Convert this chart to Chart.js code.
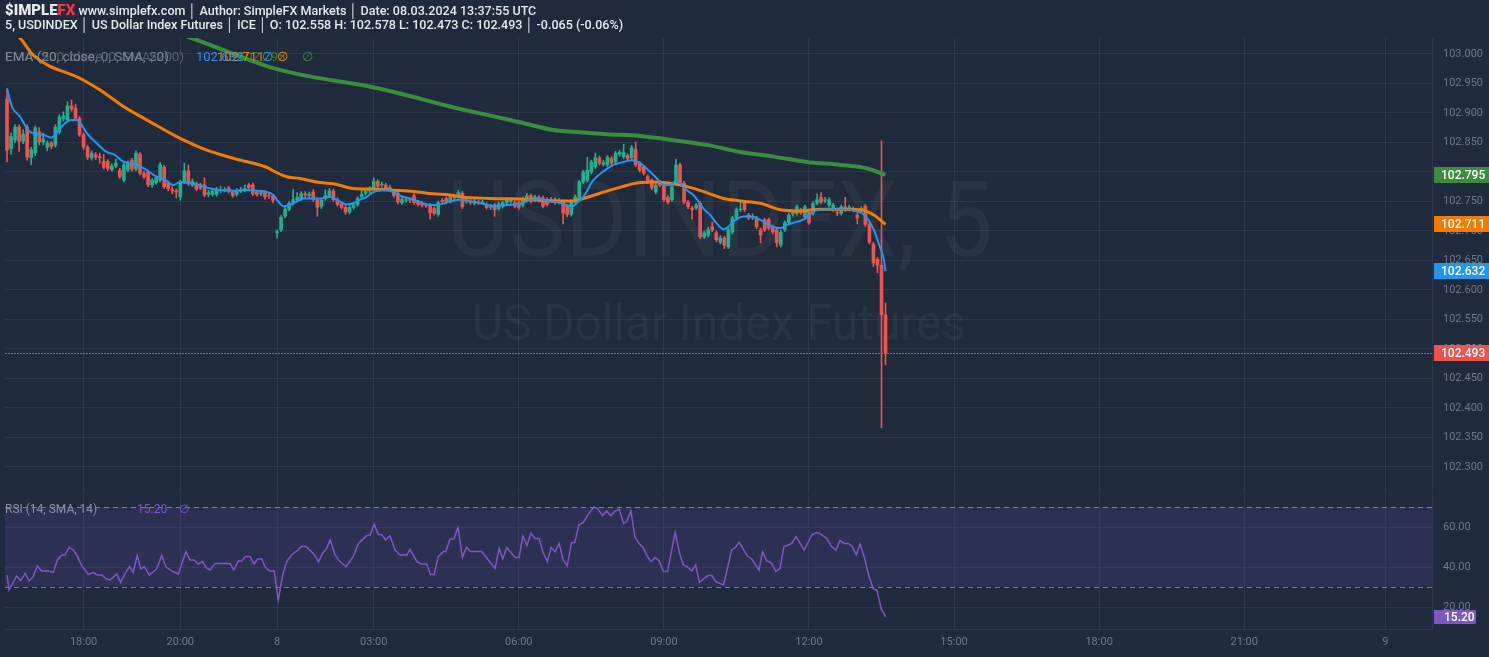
<!DOCTYPE html>
<html><head><meta charset="utf-8">
<script src="https://cdn.jsdelivr.net/npm/chart.js@4.4.1/dist/chart.umd.min.js"></script>
<style>
html,body{margin:0;padding:0;background:#1f2a3c;}
#wrap{position:relative;width:1489px;height:657px;overflow:hidden;background:#1f2a3c;font-family:Roboto,"Noto Sans",sans-serif;}
canvas{position:absolute;left:0;}
#main{top:0;}
#rsi{top:463px;}
.txt{position:absolute;white-space:pre;z-index:5;line-height:1;}
.cond{transform-origin:0 0;}
</style></head><body>
<div id="wrap">
<canvas id="main" width="1489" height="520"></canvas>
<canvas id="rsi" width="1489" height="194"></canvas>
<div class="txt cond" style="left:5px;top:3px;font-size:13px;font-weight:500;color:#e6e9ef;transform:scaleX(0.965);"><span style="font-weight:900;font-size:15.5px;">$IMPLE<span style="color:#f23645;">FX</span></span> www.simplefx.com │ Author: SimpleFX Markets │ Date: 08.03.2024 13:37:55 UTC</div>
<div class="txt cond" style="left:5px;top:18px;font-size:13px;font-weight:500;color:#e6e9ef;transform:scaleX(0.965);">5, USDINDEX │ US Dollar Index Futures │ ICE │ O: 102.558 H: 102.578 L: 102.473 C: 102.493 │ -0.065 (-0.06%)</div>
<div class="txt" style="left:5px;top:50px;font-size:13.5px;color:rgba(140,150,166,0.5);">EMA (20, close, 0, SMA, 20)</div>
<div class="txt" style="left:5px;top:50px;font-size:13.5px;color:rgba(140,150,166,0.5);">EMA (50, close, 0, SMA, 50)</div>
<div class="txt" style="left:5px;top:50px;font-size:13.5px;color:rgba(140,150,166,0.5);">EMA (200, close, 0, SMA, 200)</div>
<div class="txt" style="left:238px;top:50px;font-size:13px;color:rgba(56,142,60,0.85);">102.795</div>
<div class="txt" style="left:217px;top:50px;font-size:13px;color:#f57c00;">102.711</div>
<div class="txt" style="left:196px;top:50px;font-size:13px;color:#2196f3;">102.632</div>
<div class="txt" style="left:262px;top:50px;font-size:13px;color:#2196f3;">∅</div>
<div class="txt" style="left:277px;top:50px;font-size:13px;color:#f57c00;">∅</div>
<div class="txt" style="left:302px;top:50px;font-size:13px;color:#388e3c;">∅</div>
<div class="txt" style="left:5px;top:503px;font-size:12px;color:#8a93a3;">RSI (14, SMA, 14)</div>
<div class="txt" style="left:137px;top:503px;font-size:12px;color:#7e57c2;">15.20    ∅</div>
</div>
<script>
// ---- candles (5 min), index 0 = first bar on the left ----
const opens = [
102.924,102.840,102.854,102.876,102.852,102.876,102.824,102.832,102.868,102.851,
102.842,102.849,102.845,102.868,102.890,102.888,102.912,102.908,102.891,102.863,
102.842,102.824,102.829,102.826,102.818,102.818,102.804,102.810,102.803,102.786,
102.803,102.820,102.805,102.830,102.798,102.800,102.778,102.782,102.786,102.808,
102.782,102.770,102.768,102.758,102.783,102.802,102.778,102.780,102.778,102.778,
102.762,102.762,102.762,102.768,102.769,102.773,102.766,102.762,102.768,102.770,
102.778,102.778,102.766,102.763,102.765,102.760,102.759,102.697,102.702,102.725,
102.737,102.747,102.753,102.755,102.763,102.760,102.766,102.753,102.742,102.755,
102.760,102.768,102.753,102.746,102.740,102.732,102.740,102.745,102.758,102.764,
102.768,102.772,102.784,102.778,102.778,102.772,102.767,102.764,102.748,102.752,
102.753,102.760,102.749,102.747,102.744,102.744,102.738,102.728,102.752,102.755,
102.750,102.758,102.759,102.764,102.750,102.750,102.747,102.749,102.748,102.745,
102.740,102.744,102.738,102.742,102.748,102.750,102.748,102.748,102.744,102.752,
102.760,102.753,102.757,102.756,102.753,102.752,102.753,102.750,102.750,102.742,
102.728,102.750,102.755,102.783,102.786,102.800,102.809,102.824,102.813,102.812,
102.823,102.817,102.830,102.826,102.828,102.824,102.838,102.815,102.808,102.792,
102.786,102.766,102.783,102.778,102.757,102.753,102.781,102.812,102.781,102.749,
102.739,102.739,102.747,102.690,102.693,102.707,102.697,102.681,102.688,102.673,
102.698,102.722,102.736,102.749,102.727,102.722,102.722,102.702,102.719,102.719,
102.707,102.702,102.676,102.702,102.714,102.729,102.730,102.736,102.724,102.732,
102.730,102.747,102.757,102.752,102.744,102.736,102.731,102.730,102.741,102.738,
102.738,102.727,102.733,102.742,102.711,102.678,102.652,102.642,102.558];
const highs = [
102.939,102.866,102.880,102.880,102.872,102.880,102.842,102.878,102.875,102.866,
102.853,102.852,102.880,102.897,102.902,102.919,102.922,102.915,102.894,102.866,
102.845,102.836,102.833,102.832,102.830,102.821,102.814,102.822,102.806,102.815,
102.819,102.823,102.836,102.833,102.801,102.803,102.789,102.794,102.816,102.811,
102.785,102.775,102.771,102.786,102.815,102.812,102.788,102.783,102.781,102.790,
102.769,102.772,102.774,102.776,102.774,102.776,102.769,102.772,102.774,102.778,
102.781,102.781,102.769,102.769,102.768,102.764,102.762,102.702,102.726,102.740,
102.750,102.770,102.765,102.767,102.767,102.766,102.770,102.756,102.755,102.770,
102.772,102.771,102.756,102.749,102.743,102.743,102.748,102.758,102.770,102.772,
102.775,102.790,102.787,102.783,102.781,102.778,102.770,102.767,102.757,102.757,
102.756,102.763,102.752,102.750,102.747,102.747,102.741,102.751,102.755,102.758,
102.761,102.762,102.769,102.767,102.756,102.753,102.754,102.752,102.752,102.748,
102.745,102.747,102.749,102.751,102.757,102.756,102.751,102.751,102.758,102.764,
102.763,102.761,102.760,102.759,102.756,102.757,102.756,102.755,102.753,102.745,
102.753,102.761,102.786,102.803,102.825,102.820,102.832,102.827,102.820,102.828,
102.826,102.835,102.837,102.847,102.831,102.845,102.851,102.818,102.811,102.795,
102.789,102.781,102.786,102.781,102.760,102.778,102.822,102.815,102.784,102.752,
102.742,102.747,102.750,102.700,102.706,102.715,102.700,102.692,102.691,102.705,
102.725,102.739,102.750,102.752,102.730,102.729,102.725,102.705,102.722,102.722,
102.710,102.705,102.701,102.717,102.730,102.735,102.744,102.739,102.744,102.735,
102.750,102.763,102.765,102.757,102.756,102.747,102.735,102.744,102.757,102.744,
102.741,102.730,102.741,102.745,102.714,102.681,102.655,102.853,102.578];
const lows = [
102.817,102.830,102.850,102.835,102.848,102.820,102.812,102.828,102.846,102.846,
102.836,102.839,102.842,102.864,102.886,102.885,102.903,102.887,102.860,102.838,
102.821,102.820,102.821,102.815,102.805,102.802,102.801,102.807,102.789,102.783,
102.800,102.801,102.802,102.795,102.789,102.775,102.774,102.779,102.783,102.772,
102.768,102.763,102.756,102.752,102.780,102.777,102.775,102.768,102.770,102.758,
102.758,102.759,102.759,102.765,102.766,102.764,102.757,102.759,102.765,102.767,
102.770,102.760,102.759,102.760,102.754,102.755,102.748,102.688,102.699,102.722,
102.734,102.744,102.750,102.752,102.757,102.756,102.750,102.725,102.738,102.752,
102.757,102.750,102.742,102.737,102.728,102.729,102.737,102.742,102.755,102.761,
102.765,102.769,102.773,102.774,102.768,102.768,102.757,102.746,102.745,102.749,
102.748,102.745,102.742,102.741,102.740,102.720,102.727,102.725,102.747,102.746,
102.747,102.753,102.756,102.738,102.747,102.745,102.744,102.745,102.745,102.737,
102.736,102.725,102.735,102.739,102.745,102.747,102.739,102.737,102.741,102.749,
102.747,102.750,102.749,102.739,102.742,102.748,102.745,102.746,102.712,102.724,
102.725,102.747,102.752,102.780,102.783,102.797,102.806,102.812,102.810,102.809,
102.812,102.814,102.827,102.823,102.820,102.821,102.809,102.800,102.795,102.780,
102.770,102.763,102.775,102.750,102.746,102.750,102.778,102.778,102.746,102.738,
102.720,102.736,102.687,102.687,102.690,102.699,102.682,102.678,102.670,102.670,
102.695,102.719,102.733,102.733,102.719,102.719,102.704,102.680,102.699,102.702,
102.695,102.673,102.673,102.699,102.711,102.725,102.727,102.728,102.721,102.711,
102.727,102.744,102.746,102.748,102.741,102.733,102.726,102.727,102.733,102.734,
102.732,102.712,102.730,102.708,102.678,102.640,102.629,102.366,102.473];
const closes = [
102.837,102.860,102.876,102.852,102.864,102.825,102.838,102.875,102.851,102.856,
102.849,102.843,102.876,102.893,102.895,102.912,102.907,102.891,102.863,102.842,
102.825,102.832,102.825,102.824,102.808,102.806,102.810,102.815,102.792,102.812,
102.815,102.805,102.832,102.798,102.792,102.778,102.786,102.790,102.812,102.775,
102.772,102.768,102.766,102.783,102.802,102.780,102.784,102.771,102.773,102.761,
102.765,102.768,102.770,102.769,102.770,102.767,102.760,102.768,102.770,102.772,
102.773,102.763,102.762,102.765,102.758,102.759,102.752,102.699,102.723,102.737,
102.747,102.753,102.757,102.763,102.761,102.762,102.753,102.740,102.752,102.760,
102.768,102.753,102.745,102.740,102.732,102.740,102.744,102.755,102.762,102.768,
102.770,102.784,102.776,102.779,102.771,102.774,102.760,102.749,102.754,102.753,
102.752,102.748,102.745,102.744,102.743,102.731,102.730,102.748,102.750,102.749,
102.758,102.756,102.765,102.741,102.752,102.748,102.750,102.748,102.749,102.740,
102.741,102.736,102.746,102.748,102.754,102.752,102.742,102.740,102.755,102.760,
102.750,102.758,102.752,102.742,102.745,102.753,102.748,102.751,102.730,102.728,
102.750,102.757,102.783,102.800,102.803,102.817,102.824,102.815,102.816,102.825,
102.815,102.832,102.833,102.833,102.823,102.841,102.812,102.803,102.798,102.783,
102.773,102.778,102.778,102.753,102.749,102.775,102.812,102.781,102.749,102.741,
102.736,102.744,102.690,102.697,102.702,102.702,102.685,102.688,102.676,102.702,
102.722,102.736,102.737,102.736,102.722,102.725,102.707,102.693,102.702,102.705,
102.698,102.680,102.698,102.714,102.727,102.731,102.741,102.731,102.741,102.714,
102.747,102.753,102.749,102.753,102.753,102.744,102.730,102.741,102.736,102.740,
102.736,102.722,102.738,102.711,102.681,102.646,102.642,102.558,102.493];

// ---- EMA lines (bar index, price) ----
const ema20X = [0,1.2,3.2,5.7,9,11,12.3,14,16,17.3,18.5,19.8,22.2,24.7,26.8,28.5,32.2,34.7,37.1,38.8,41.3,42.9,45.4,47.9,50.4,56.2,59.5,64.4,66.1,67.3,68.6,70.2,71.9,73.5,77.7,80.1,81.8,84.3,85.9,87.6,89.3,90.9,94.2,95.9,97.5,100,102.5,105,106.6,109.9,112.4,115.7,118.2,120.7,124,127.3,129.8,132.3,134.7,137.2,138.9,140.1,141.3,143,145.5,148,150.5,153,155,157.1,158.7,160.4,162,163.3,164.5,165.8,167,168.7,170.3,171.6,172.8,174.5,176.1,177.8,179,180.3,181.9,183.6,185.2,186.9,188.5,190.2,191.9,193.5,195.2,196.8,198.5,200.1,201.8,203.5,206.8,209.3,210.9,212.2,213.4,215.1,216.7,217.6,218];
const ema20Y = [102.942,102.911,102.894,102.868,102.863,102.858,102.866,102.880,102.888,102.888,102.880,102.866,102.849,102.834,102.829,102.819,102.812,102.803,102.792,102.789,102.778,102.783,102.781,102.778,102.772,102.768,102.769,102.766,102.761,102.750,102.742,102.744,102.750,102.755,102.755,102.758,102.753,102.745,102.747,102.753,102.758,102.766,102.769,102.766,102.760,102.755,102.749,102.744,102.744,102.750,102.753,102.750,102.746,102.742,102.744,102.746,102.753,102.754,102.750,102.748,102.744,102.741,102.747,102.758,102.786,102.801,102.812,102.817,102.820,102.815,102.806,102.795,102.784,102.778,102.778,102.784,102.781,102.769,102.761,102.750,102.738,102.727,102.713,102.703,102.707,102.716,102.723,102.725,102.724,102.719,102.713,102.707,102.705,102.710,102.714,102.717,102.723,102.733,102.736,102.737,102.737,102.736,102.733,102.730,102.722,102.702,102.671,102.651,102.632];
const ema50X = [0,3.6,6.5,18.9,23.1,28.9,35.5,42.1,49.6,56.2,64.4,66.9,69.4,72.7,77.7,81,85.9,90.9,95.9,100.8,105.8,109.9,112.4,119.8,128.1,136.4,140.5,143,147.1,152.1,157.1,161.2,165.3,169.5,173.6,177.8,181.9,186.9,191.9,196.8,201.8,206.8,211.7,215.1,218];
const ema50Y = [103.050,103.024,102.998,102.956,102.939,102.911,102.885,102.860,102.837,102.823,102.808,102.799,102.792,102.789,102.782,102.780,102.772,102.771,102.769,102.767,102.763,102.761,102.758,102.755,102.754,102.751,102.751,102.755,102.764,102.774,102.782,102.783,102.780,102.774,102.765,102.755,102.751,102.747,102.736,102.734,102.737,102.737,102.736,102.727,102.711];
const ema200X = [38,47,66.1,75,88.4,97.5,109.9,115,122.3,128,135.6,140.5,148.8,157.1,165.3,173.6,181.9,190.2,198.5,206.8,213.4,218];
const ema200Y = [103.045,103.024,102.976,102.962,102.947,102.933,102.911,102.903,102.892,102.883,102.871,102.868,102.864,102.861,102.854,102.846,102.834,102.826,102.817,102.812,102.806,102.795];

// ---- RSI (14) ----
const rsiX = [0,0.5,2.4,3.4,4.5,5.5,6.5,7.5,8.6,10.3,11.5,12.5,13.6,14.4,15.4,16.5,17.5,18.5,20.2,21.4,22.4,23.5,24.7,25.6,27.2,28.2,29.3,30.4,31.3,32.3,33.2,34.1,35.3,37.1,38.4,39.4,40.9,42.5,44.4,45.4,46.4,47.5,48.5,49.4,50.4,51.6,55.3,56.3,57.4,58.2,59.2,60.3,61.3,62.2,63.2,64,65.1,66.3,67.3,68.4,69.4,70.6,71.9,73.1,74.2,76,77.3,78.3,79.3,80.2,81.4,82.6,84.1,85.9,87.2,89.2,90.1,91.1,92.1,92.9,94,95,96.3,97.5,99.2,100,101.7,102.7,104.1,105.1,106,107,108.3,108.9,109.9,110.9,111.9,113,114,115,117.8,121.1,122.1,123,124,126.1,127.1,128,129,130,131,132,133.1,134.1,135,136,137,138,139,140.1,140.9,141.9,143,144.4,145.6,146.5,147.8,148.8,149.8,150.9,151.9,153,153.8,154.8,155.8,156.8,157.9,158.9,159.8,160.8,161.8,162.9,163.9,165.8,166.9,167.8,168.8,169.9,170.9,171.8,173,174,174.9,175.9,177.8,179.8,180.7,181.7,183.7,184.8,186.6,187.5,188.5,189.7,190.8,191.8,192.8,193.9,194.7,195.8,197.8,199.7,200.9,201.7,203.4,204.6,205.7,206.7,207.7,208.8,209.8,210.7,211.7,212.8,213.8,214.9,215.9,216.9,218];
const rsiY = [36,28.5,35.5,33.2,36.8,33,35.2,40.5,38,38,37.3,43.5,46,46,49.8,48.5,45.2,40.7,36.3,37.3,36,36,34,33.5,36.5,32.3,36.8,40.2,37.3,45.7,39,40.2,36,39,45.7,40.2,38,36.5,47.7,43.5,43.5,41.5,42.7,39.7,38.5,41.8,41.8,38.5,43,43,45.2,45.2,41.5,44,44,40.2,38,38,23.5,36,42.7,46,48,50.2,50.2,46.8,42.7,46.8,49.3,53.5,46,42.7,40.2,45.2,51.8,55.7,56,61.5,56.3,56.3,53.5,55.7,48.5,46,46,48.8,42.7,41.5,41.5,36.3,36.3,45.2,47.7,47.7,54,54,59.8,44.8,49.8,47.7,47.7,39.3,49.3,44,49.8,44.8,44.8,55.7,50.7,56.8,54.3,54.3,46.8,42.7,49.8,47.7,51.8,43.5,40.5,52.3,52.3,61,62.3,66.8,70,69.3,65.7,68,65.7,68,69,61.8,62.7,68,55.2,51.8,49.7,45.2,42.7,44.7,43.2,37.7,37.7,57.3,46.8,41,40.2,38,41,32.3,34.3,35.7,35.7,32.7,31,48.5,49.7,52.3,45.5,44,38.5,47.7,43.2,41.8,37.7,39.3,50.2,51,51.8,55.2,48.5,56,57.2,56.8,54.3,50.2,48.5,53.2,51.8,51.8,50.2,46,51.5,44.3,36,29.3,28.2,19.3,15.2];

// ---- axes ----
const xTickPos = [19,43,67,91,127,163,199,235,271,307,342];
const xTickText = ['18:00','20:00','8','03:00','06:00','09:00','12:00','15:00','18:00','21:00','9'];
const priceTicks = [102.30,102.35,102.40,102.45,102.50,102.55,102.60,102.65,102.70,102.75,102.80,102.85,102.90,102.95,103.00];
const rsiTicks = [20,40,60];
const rsiBands = [30,70];
const priceMarkValues = [102.795,102.711,102.632,102.493];
const priceMarkColors = ['#388e3c','#f57c00','#2196f3','#ef5350'];
const lastClose = 102.493;
const lastRsi = 15.20;

const X_MIN = -0.5, X_MAX = 353.6;
const UP = '#22b08f', DOWN = '#ef5350';
const GRID = 'rgba(60,74,96,0.45)';
const TICKC = '#6f7a8d';
const BORDER = '#2c384b';

const barColors = opens.map((o,i)=> closes[i] >= o ? UP : DOWN);
const pts = (xs, ys) => xs.map((x,i)=>({x:x, y:ys[i]}));

function drawFit(ctx, text, x, y, w, font){
  ctx.font = font;
  const m = ctx.measureText(text).width;
  ctx.save();
  ctx.translate(x, y);
  ctx.scale(w / m, 1);
  ctx.fillText(text, 0, 0);
  ctx.restore();
}

const mainDeco = {
  id:'mainDeco',
  beforeDatasetsDraw(chart){
    const {ctx, chartArea:a, scales:{y}} = chart;
    ctx.save();
    ctx.beginPath(); ctx.rect(a.left, a.top, a.right-a.left, a.bottom-a.top); ctx.clip();
    ctx.fillStyle = 'rgba(255,255,255,0.045)';
    ctx.textBaseline = 'alphabetic';
    drawFit(ctx, 'USDINDEX, 5', 447, 256, 546, '400 105px Roboto');
    drawFit(ctx, 'US Dollar Index Futures', 472, 340, 494, '400 50px Roboto');
    const yy = Math.round(y.getPixelForValue(lastClose));
    ctx.fillStyle = '#e0474f';
    for (let xx = Math.ceil(a.left); xx < a.right; xx += 3) ctx.fillRect(xx, yy, 2, 1);
    ctx.restore();
  },
  afterDraw(chart){
    const {ctx, chartArea:a, scales:{y}} = chart;
    ctx.save();
    ctx.font = '500 12px Roboto';
    ctx.textBaseline = 'middle';
    priceMarkValues.forEach((v,i)=>{
      const py = y.getPixelForValue(v);
      ctx.fillStyle = priceMarkColors[i];
      ctx.fillRect(a.right + 2, Math.round(py) - 8, 57, 16);
      ctx.fillStyle = '#ffffff';
      ctx.fillText(v.toFixed(3), a.right + 9, py + 1);
    });
    ctx.restore();
  }
};

// main panel: chart area 5..1432 x 38..493 (bottom padding absorbs the axis label padding)
new Chart(document.getElementById('main'), {
  type:'bar',
  data:{datasets:[
    {type:'line', data: pts(ema200X, ema200Y), borderColor:'#388e3c', borderWidth:4, pointRadius:0, cubicInterpolationMode:'monotone', order:3},
    {type:'line', data: pts(ema50X, ema50Y), borderColor:'#f57c00', borderWidth:3, pointRadius:0, cubicInterpolationMode:'monotone', order:2},
    {type:'line', data: pts(ema20X, ema20Y), borderColor:'#2196f3', borderWidth:2, pointRadius:0, cubicInterpolationMode:'monotone', order:1},
    {data: opens.map((o,i)=>({x:i, y:[lows[i], highs[i]]})), backgroundColor: barColors, barThickness:1, grouped:false, order:6},
    {data: opens.map((o,i)=>({x:i, y:[o, closes[i]]})), backgroundColor: barColors, barThickness:3, grouped:false, order:5}
  ]},
  options:{
    responsive:false, animation:false, devicePixelRatio:1,
    layout:{padding:{left:5, top:38, right:0, bottom:27}},
    plugins:{legend:{display:false}, tooltip:{enabled:false}},
    scales:{
      x:{type:'linear', min:X_MIN, max:X_MAX, offset:false,
         grid:{color:GRID, drawTicks:false, offset:false}, border:{display:false},
         ticks:{display:false},
         afterBuildTicks:(s)=>{ s.ticks = xTickPos.map(v=>({value:v})); },
         afterFit:(s)=>{ s.height = 0; }},
      y:{position:'right', min:102.2559, max:103.0271,
         grid:{color:GRID, drawTicks:false}, border:{color:BORDER},
         ticks:{color:TICKC, font:{family:'Roboto', size:11}, padding:11, callback:(v)=>Number(v).toFixed(3)},
         afterBuildTicks:(s)=>{ s.ticks = priceTicks.map(v=>({value:v})); },
         afterFit:(s)=>{ s.width = 57; }}
    }
  },
  plugins:[mainDeco]
});

const rsiDeco = {
  id:'rsiDeco',
  beforeDatasetsDraw(chart){
    const {ctx, chartArea:a, scales:{y}} = chart;
    const y70 = y.getPixelForValue(rsiBands[1]), y30 = y.getPixelForValue(rsiBands[0]);
    ctx.save();
    ctx.fillStyle = 'rgba(80,70,150,0.26)';
    ctx.fillRect(a.left, y70, a.right - a.left, y30 - y70);
    ctx.strokeStyle = 'rgba(150,158,178,0.75)';
    ctx.setLineDash([5,4]); ctx.lineWidth = 1;
    [y70, y30].forEach(py=>{
      const r = Math.round(py) + 0.5;
      ctx.beginPath(); ctx.moveTo(a.left, r); ctx.lineTo(a.right, r); ctx.stroke();
    });
    ctx.restore();
  },
  afterDraw(chart){
    const {ctx, chartArea:a, scales:{y}} = chart;
    const py = y.getPixelForValue(lastRsi);
    ctx.save();
    ctx.fillStyle = '#7e57c2';
    ctx.fillRect(a.right + 2, Math.round(py) - 7, 42, 14);
    ctx.fillStyle = '#ffffff';
    ctx.font = '500 12px Roboto';
    ctx.textBaseline = 'middle';
    ctx.fillText(lastRsi.toFixed(2), a.right + 12, py + 1);
    ctx.restore();
  }
};

// RSI panel: canvas top 463, chart area 495..629 (absolute)
new Chart(document.getElementById('rsi'), {
  type:'line',
  data:{datasets:[
    {data: pts(rsiX, rsiY), borderColor:'#7e57c2', borderWidth:1.5, pointRadius:0, tension:0}
  ]},
  options:{
    responsive:false, animation:false, devicePixelRatio:1,
    layout:{padding:{left:5, top:32, right:0, bottom:0}},
    plugins:{legend:{display:false}, tooltip:{enabled:false}},
    scales:{
      x:{type:'linear', min:X_MIN, max:X_MAX, offset:false,
         grid:{color:GRID, drawTicks:false}, border:{color:BORDER},
         ticks:{color:TICKC, font:{family:'Roboto', size:11}, padding:7, autoSkip:false, maxRotation:0,
                callback:(v,i)=>xTickText[i]},
         afterBuildTicks:(s)=>{ s.ticks = xTickPos.map(v=>({value:v})); },
         afterFit:(s)=>{ s.height = 28; }},
      y:{position:'right', min:9, max:76,
         grid:{color:GRID, drawTicks:false}, border:{color:BORDER},
         ticks:{color:TICKC, font:{family:'Roboto', size:11}, padding:11, callback:(v)=>Number(v).toFixed(2)},
         afterBuildTicks:(s)=>{ s.ticks = rsiTicks.map(v=>({value:v})); },
         afterFit:(s)=>{ s.width = 57; }}
    }
  },
  plugins:[rsiDeco]
});
</script>
</body></html>
